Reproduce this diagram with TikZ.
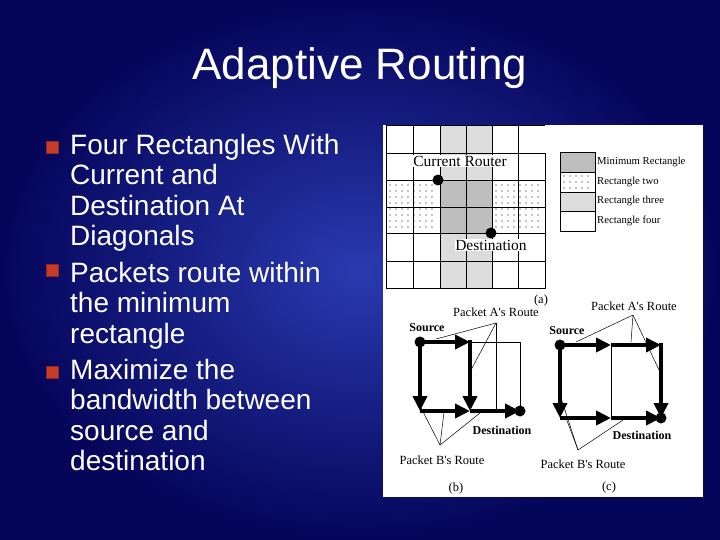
\documentclass[tikz,border=0pt]{standalone}
\usepackage{fontspec}
\setmainfont{Liberation Sans}
\newfontfamily\serif{Liberation Serif}
\usetikzlibrary{arrows.meta}
\definecolor{bgout}{HTML}{05055A}
\definecolor{bgin}{HTML}{2A3AB0}
\definecolor{rt3}{HTML}{DCDCDC}
\definecolor{minr}{HTML}{BEBEBE}
\definecolor{bred}{HTML}{C83A2A}
\newcommand{\dotgrid}[6]{\foreach \xx in {#1,#2,...,#3}{\foreach \yy in {#4,#5,...,#6}{\fill (\xx,\yy) circle (0.6);}}}
\begin{document}
\begin{tikzpicture}[x=1pt,y=-1pt,
  bul/.style={anchor=north west,text=white,font=\fontsize{28}{30.5}\selectfont,align=left,inner sep=0},
  sq/.style={fill=bred,draw=bred!70!black,minimum size=12pt,inner sep=0},
  lab/.style={font=\serif\fontsize{12.5}{13}\selectfont,inner sep=0},
  glab/.style={font=\serif\fontsize{15.5}{16}\selectfont,fill=white,inner sep=0.5pt},
  slab/.style={font=\serif\fontsize{10.7}{11}\selectfont,inner sep=0,anchor=west},
  blab/.style={font=\serif\bfseries\fontsize{12}{12}\selectfont,inner sep=0},
  thick route/.style={line width=4pt,-{Triangle[length=15pt,width=14pt]}},
  ptr/.style={line width=0.5pt},
  dot/.style={circle,fill=black,minimum size=11pt,inner sep=0}]
\useasboundingbox (0,0) rectangle (720,540);
\shade[inner color=bgin,outer color=bgout] (0,0) rectangle (720,540);
\node[text=white,font=\fontsize{44}{50}\selectfont] (title) at (360,68) {Adaptive Routing};
\node[sq] (s1) at (52,147) {};
\node[sq] (s2) at (52,270) {};
\node[sq] (s3) at (52,372) {};
\node[bul] (b1) at (70,134) {Four Rectangles With\\Current and\\Destination At\\Diagonals};
\node[bul] (b2) at (70,262) {Packets route within\\the minimum\\rectangle};
\node[bul] (b3) at (70,359) {Maximize the\\bandwidth between\\source and\\destination};
% figure
\fill[white] (383,125) rectangle (703,497);
\fill[rt3] (440,125) rectangle (492,180);
\fill[rt3] (440,233) rectangle (492,288);
\fill[minr] (440,180) rectangle (492,233);
\dotgrid{390}{396}{437}{185}{191}{230}
\dotgrid{496}{502}{543}{185}{191}{230}
\draw[line width=0.8pt] (386,125) rectangle (518,153);
\draw[line width=0.8pt] (386,153) rectangle (545,288);
\foreach \x in {413,440,466,492,518} \draw[line width=0.8pt] (\x,125) -- (\x,288);
\foreach \y in {180,207,233,261} \draw[line width=0.8pt] (386,\y) -- (545,\y);
\draw (518,125) -- (545,125);
\node[glab] (cr) at (460,161) {Current Router};
\node[glab] (dst) at (491,245) {Destination};
\node[dot] (d1) at (438,180) {};
\node[dot] (d2) at (491,233) {};
% legend
\fill[minr] (560,152) rectangle (595,172);
\dotgrid{564}{570}{593}{176}{182}{190}
\fill[rt3] (560,192) rectangle (595,211);
\draw[line width=0.8pt] (560,152) rectangle (595,231);
\foreach \y in {172,192,211} \draw[line width=0.8pt] (560,\y) -- (595,\y);
\node[slab] (l1) at (597,162) {Minimum Rectangle};
\node[slab] (l2) at (597,182) {Rectangle two};
\node[slab] (l3) at (597,201) {Rectangle three};
\node[slab] (l4) at (597,221) {Rectangle four};
\node[lab] (la) at (541,300) {(a)};
% (b)
\coordinate (bs) at (420,342);
\coordinate (bm) at (470,342);
\coordinate (br) at (520,342);
\coordinate (bbl) at (420,411);
\coordinate (bbm) at (470,411);
\coordinate (bd) at (520,411);
\draw[ptr] (bm) -- (br) -- (bd);
\draw[ptr] (496,342) -- (496,411);
\draw[thick route] (bs) -- (bm);
\draw[thick route] (470,340) -- (bbm);
\draw[thick route] (bs) -- (bbl);
\draw[thick route] (bbl) -- (bbm);
\draw[thick route] (bbm) -- (bd);
\node[dot] (bsd) at (bs) {};
\node[dot] (bdd) at (bd) {};
\coordinate (pa) at (496,323);
\draw[ptr] (pa) -- (436,339); \draw[ptr] (pa) -- (471,370); \draw[ptr] (pa) -- (496,342);
\coordinate (pb) at (440,445);
\draw[ptr] (pb) -- (416,398); \draw[ptr] (pb) -- (444,412); \draw[ptr] (pb) -- (480,413);
\node[lab] (bpa) at (496,312) {Packet A's Route};
\node[blab] (bsl) at (427,328) {Source};
\node[blab] (bdl) at (502,430) {Destination};
\node[lab] (bpb) at (442,460) {Packet B's Route};
\node[lab] (lb) at (456,488) {(b)};
% (c)
\coordinate (cs) at (560,345);
\coordinate (cm) at (611,345);
\coordinate (cr2) at (661,345);
\coordinate (cbl) at (560,418);
\coordinate (cbm) at (611,418);
\coordinate (cd) at (661,418);
\draw[ptr] (cm) -- (cbm);
\draw[thick route] (cs) -- (cm);
\draw[thick route] (cm) -- (cr2);
\draw[thick route] (661,343) -- (cd);
\draw[thick route] (cs) -- (cbl);
\draw[thick route] (cbl) -- (cbm);
\draw[thick route] (cbm) -- (cd);
\node[dot] (csd) at (cs) {};
\node[dot] (cdd) at (cd) {};
\coordinate (qa) at (633,315);
\draw[ptr] (qa) -- (576,342); \draw[ptr] (qa) -- (631,342); \draw[ptr] (qa) -- (660,372);
\coordinate (qb) at (578,450);
\draw[ptr] (qb) -- (561,398); \draw[ptr] (qb) -- (566,418); \draw[ptr] (qb) -- (626,418);
\node[lab] (cpa) at (634,306) {Packet A's Route};
\node[blab] (csl) at (567,331) {Source};
\node[blab] (cdl) at (642,435) {Destination};
\node[lab] (cpb) at (583,464) {Packet B's Route};
\node[lab] (lc) at (609,487) {(c)};
\end{tikzpicture}
\end{document}
